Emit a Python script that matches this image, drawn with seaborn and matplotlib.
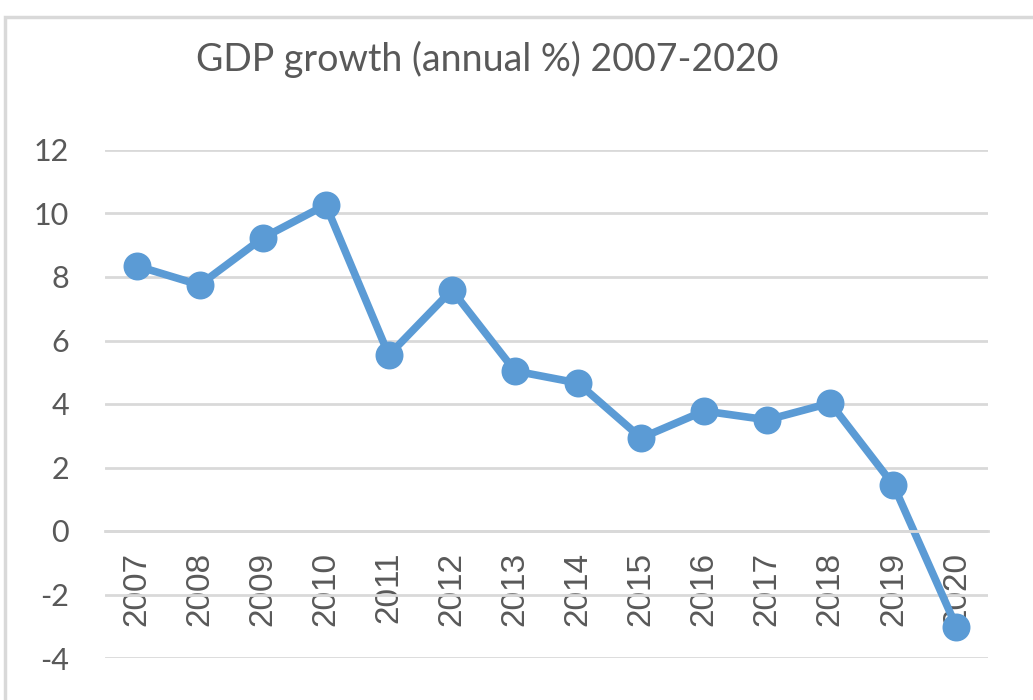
import pandas as pd
import matplotlib.pyplot as plt
import matplotlib.patches as patches
import seaborn as sns

# data
years = ['2007', '2008', '2009', '2010', '2011', '2012', '2013',
         '2014', '2015', '2016', '2017', '2018', '2019', '2020']
growth = [8.35, 7.75, 9.23, 10.27, 5.54, 7.59, 5.04,
          4.66, 2.93, 3.78, 3.50, 4.03, 1.45, -3.02]
yticks = [-4, -2, 0, 2, 4, 6, 8, 10, 12]

df = pd.DataFrame({'Year': years, 'GDP growth': growth})

sns.set_style('white')
plt.rcParams['font.family'] = ['Lato', 'DejaVu Sans']
txt = '#595959'
grid = '#D9D9D9'
blue = '#5B9BD5'

fig = plt.figure(figsize=(10.33, 7), dpi=100)
ax = fig.add_axes([105 / 1033, 1 - 658 / 700, 883 / 1033, 508 / 700])

sns.pointplot(x='Year', y='GDP growth', data=df, color=blue, markers='o',
              markersize=16, linewidth=5.5, ax=ax, errorbar=None)

ax.set_ylim(-4, 12)
ax.set_xlim(-0.5, len(years) - 0.5)
ax.set_yticks(yticks)
ax.set_yticklabels([str(v) for v in yticks])
ax.yaxis.grid(True, color=grid, linewidth=2)
ax.set_axisbelow(True)

for s in ['top', 'right', 'left']:
    ax.spines[s].set_visible(False)
ax.spines['bottom'].set_position(('data', 0))
ax.spines['bottom'].set_color(grid)
ax.spines['bottom'].set_linewidth(2)

ax.tick_params(axis='y', length=0, pad=26, labelsize=22, labelcolor=txt)
ax.tick_params(axis='x', length=0, pad=15, labelsize=24, labelcolor=txt,
               labelrotation=90)
for lab in ax.get_xticklabels():
    lab.set_family(['Liberation Sans', 'DejaVu Sans'])
ax.set_xlabel('')
ax.set_ylabel('')

fig.text(487 / 1033, 1 - 59 / 700, 'GDP growth (annual %) 2007-2020',
         ha='center', va='center', fontsize=27, color=txt)

# chart area border
fig.patches.append(patches.Rectangle((5 / 1033, -0.1), 1.2, 1.1 - 17 / 700,
                                     transform=fig.transFigure, fill=False,
                                     edgecolor=grid, linewidth=2.5))

fig.savefig('out.png', dpi=100)
